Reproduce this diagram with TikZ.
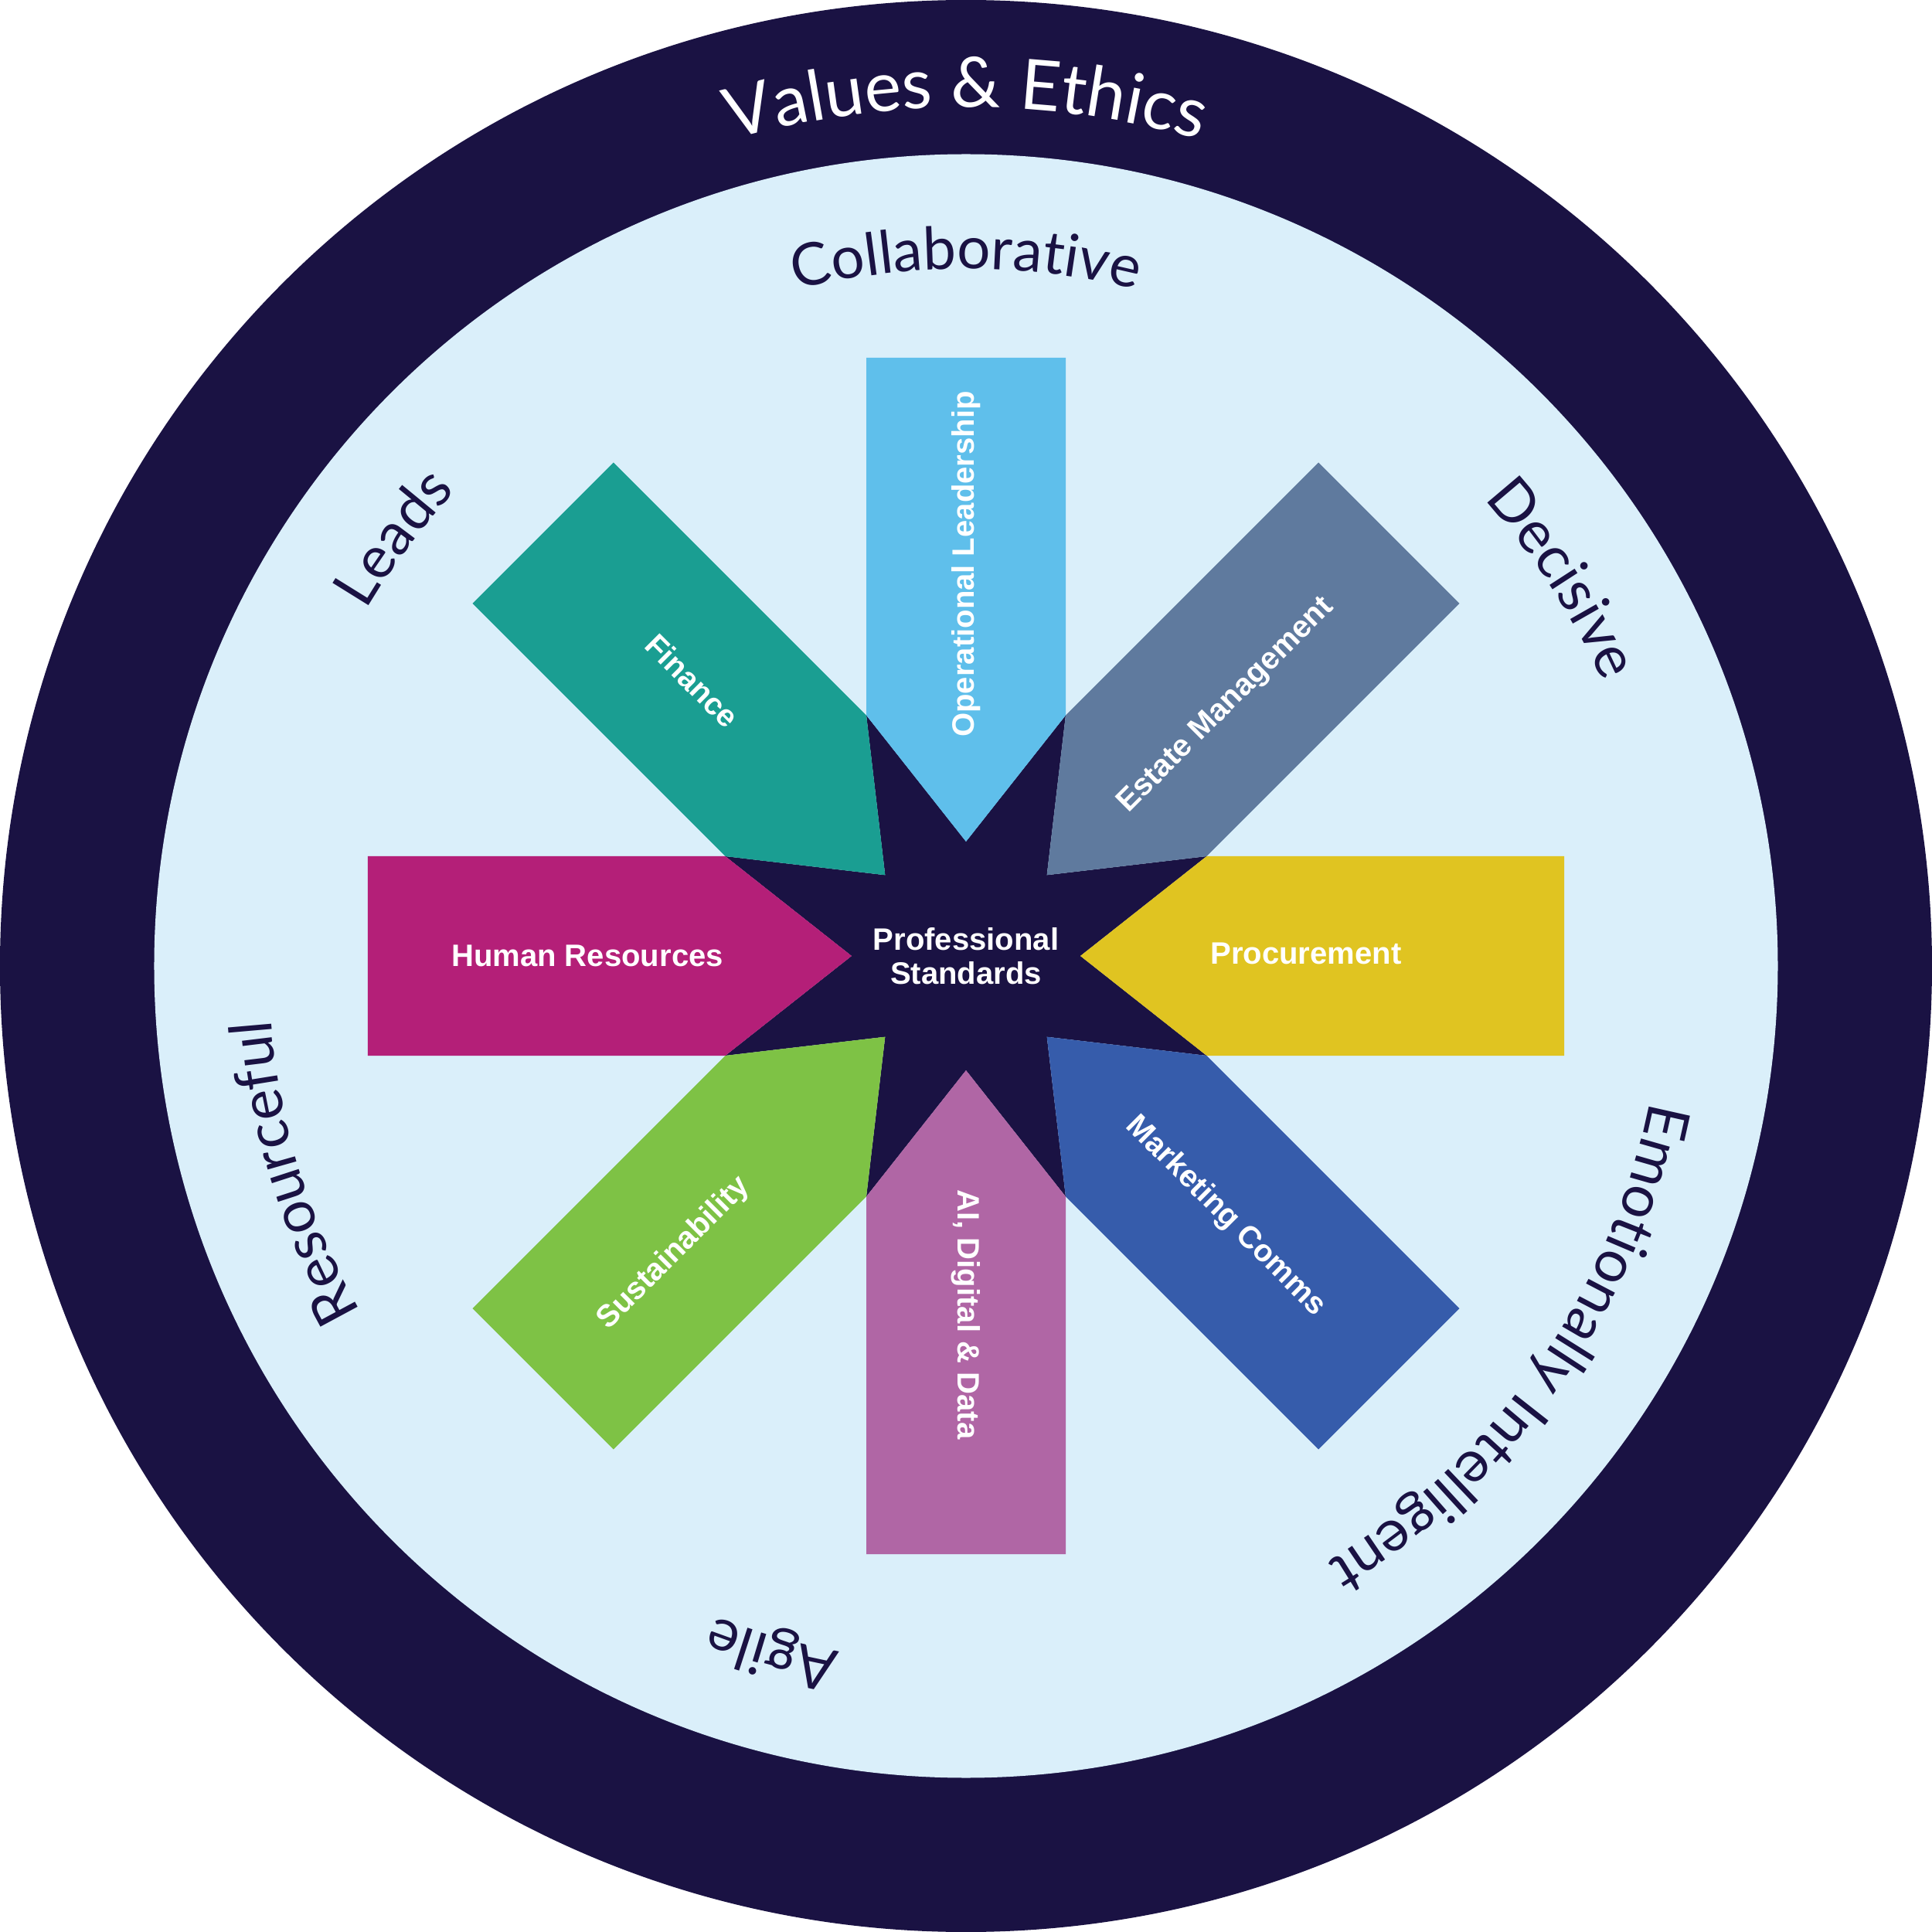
\documentclass[tikz,border=0pt]{standalone}
\usepackage{fontspec}
\setmainfont{Liberation Sans}
\newfontfamily\ringfont{Lato}
\usepackage{tikz}
\usetikzlibrary{decorations.text}
\definecolor{ringnavy}{HTML}{1A1243}
\definecolor{innersky}{HTML}{DAEFFA}
\definecolor{opsky}{HTML}{5FBFEB}
\definecolor{estateslate}{HTML}{5F7A9E}
\definecolor{procgold}{HTML}{E0C421}
\definecolor{marketblue}{HTML}{365CAB}
\definecolor{aiorchid}{HTML}{B066A5}
\definecolor{sustgreen}{HTML}{7EC245}
\definecolor{hrmagenta}{HTML}{B41F78}
\definecolor{financeteal}{HTML}{1A9E92}

\begin{document}
\begin{tikzpicture}[
    armlabel/.style={text=white, font=\bfseries\fontsize{11.4}{12.4}\selectfont, inner sep=0pt, align=center},
    ringtext/.style={decorate, decoration={text along path, text align=center, text color=ringnavy}}
]
\useasboundingbox (-12.5,-12.5) rectangle (12.5,12.5);
\fill[ringnavy] (0,0) circle (12.5);
\fill[innersky] (0,0) circle (10.505);
% centre star
\fill[ringnavy, shift={(0,0.13)}] (0:1.48)
    \foreach \a in {0,45,...,315} {-- (\a:1.48) -- (\a+22.5:3.371)} -- cycle;
% the eight arms
\foreach \ang/\col in {90/opsky, 45/estateslate, 0/procgold, -45/marketblue,
                       -90/aiorchid, -135/sustgreen, 180/hrmagenta, 135/financeteal}
    \fill[\col, shift={(0,0.13)}, rotate=\ang-90]
        (0,1.48) -- (1.29,3.114) -- (1.29,7.74) -- (-1.29,7.74) -- (-1.29,3.114) -- cycle;
\node[armlabel] (profstd) at (0,0.13) {Professional\\Standards};
\node[armlabel, rotate=90] (oplead) at (0,5.20) {Operational Leadership};
\node[armlabel, rotate=45] (estate) at (3.37,3.37) {Estate Management};
\node[armlabel] (procure) at (4.40,0.16) {Procurement};
\node[armlabel, rotate=-45] (marcomms) at (3.36,-3.24) {Marketing Comms};
\node[armlabel, rotate=-90] (aidata) at (0,-4.51) {AI, Digital \& Data};
\node[armlabel, rotate=45] (sustain) at (-3.78,-3.72) {Sustainability};
\node[armlabel] (humres) at (-4.90,0.13) {Human Resources};
\node[armlabel, rotate=-45] (finance) at (-3.54,3.69) {Finance};
% words round the rings
\path[ringtext, decoration={text color=white, text={|\ringfont\fontsize{25.7}{30}\selectfont|Values {\&} Ethics}}]
    (150:11.11) arc[start angle=150, end angle=30, radius=11.11];
\path[ringtext, decoration={text={|\ringfont\fontsize{21.7}{26}\selectfont|Collaborative}}]
    (150:9.02) arc[start angle=150, end angle=30, radius=9.02];
\path[ringtext, decoration={text={|\ringfont\fontsize{21.7}{26}\selectfont|Decisive}}]
    (93:9.02) arc[start angle=93, end angle=-27, radius=9.02];
\path[ringtext, decoration={text={|\ringfont\fontsize{21.7}{26}\selectfont|Emotionally Intelligent}}]
    (25:9.02) arc[start angle=25, end angle=-95, radius=9.02];
\path[ringtext, decoration={text={|\ringfont\fontsize{21.7}{26}\selectfont|Agile}}]
    (314.2:9.02) arc[start angle=314.2, end angle=194.2, radius=9.02];
\path[ringtext, decoration={text={|\ringfont\fontsize{21.7}{26}\selectfont|Resourceful}}]
    (257.1:9.02) arc[start angle=257.1, end angle=137.1, radius=9.02];
\path[ringtext, decoration={text={|\ringfont\fontsize{21.7}{26}\selectfont|Leads}}]
    (203.2:9.02) arc[start angle=203.2, end angle=83.2, radius=9.02];
\end{tikzpicture}
\end{document}
